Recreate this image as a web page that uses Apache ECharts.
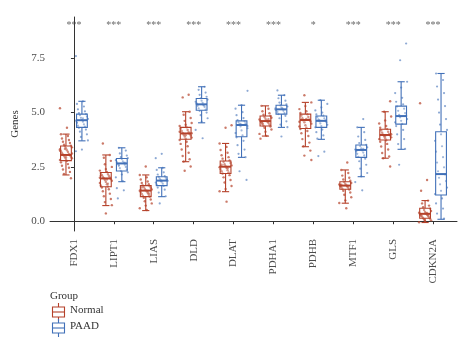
<!DOCTYPE html>
<html>
<head>
<meta charset="utf-8">
<script src="https://cdn.jsdelivr.net/npm/echarts@6/dist/echarts.min.js"></script>
<style>
  html, body { margin: 0; padding: 0; background: #fff; }
  #chart { width: 474px; height: 352px; }
</style>
</head>
<body>
<div id="chart"></div>
<script>
const genes = ['FDX1', 'LIPT1', 'LIAS', 'DLD', 'DLAT', 'PDHA1', 'PDHB', 'MTF1', 'GLS', 'CDKN2A'];
const signif = ['***', '***', '***', '***', '***', '***', '*', '***', '***', '***'];
const yTicks = [0, 2.5, 5, 7.5];

// box stats: [lower whisker, Q1, median, Q3, upper whisker]
const normalBox = [
  [2.13, 2.79, 3.05, 3.46, 4.01], [0.72, 1.59, 1.97, 2.24, 3.05], [0.49, 1.13, 1.41, 1.64, 2.13],
  [2.74, 3.77, 4.04, 4.32, 5.04], [1.36, 2.2, 2.51, 2.77, 3.58], [3.92, 4.38, 4.61, 4.84, 5.31],
  [3.43, 4.27, 4.66, 4.93, 5.47], [0.83, 1.47, 1.64, 1.82, 2.36], [2.9, 3.74, 3.97, 4.23, 5.04],
  [-0.06, 0.14, 0.34, 0.6, 0.95],
];
const paadBox = [
  [3.7, 4.32, 4.65, 4.93, 5.52], [1.82, 2.31, 2.66, 2.89, 3.38], [1.13, 1.64, 1.87, 2.05, 2.46],
  [4.53, 5.11, 5.38, 5.65, 6.19], [2.94, 3.89, 4.43, 4.62, 5.34], [4.32, 4.93, 5.15, 5.34, 5.8],
  [3.77, 4.32, 4.62, 4.84, 5.57], [2.05, 2.94, 3.28, 3.51, 4.32], [3.31, 4.47, 4.84, 5.3, 6.42],
  [0.09, 1.21, 2.17, 4.12, 6.8],
];

// sample points
const normalPts = [
  [5.2, 4.3, 4.0, 3.92, 3.81, 3.74, 3.66, 3.6, 3.52, 3.48, 3.44, 3.4, 3.36, 3.31, 3.27, 3.22, 3.19, 3.14, 3.1, 3.07, 3.04, 3.01, 2.97, 2.93, 2.9, 2.86, 2.82, 2.78, 2.71, 2.63, 2.55, 2.46, 2.38, 2.27, 2.18, 1.98, 3.33, 3.12, 2.95, 3.25],
  [3.58, 3.05, 2.92, 2.78, 2.62, 2.5, 2.4, 2.33, 2.27, 2.22, 2.17, 2.13, 2.09, 2.05, 2.01, 1.98, 1.94, 1.9, 1.86, 1.81, 1.76, 1.7, 1.65, 1.6, 1.55, 1.47, 1.38, 1.27, 1.15, 1.02, 0.88, 0.74, 0.36, 2.0, 1.92, 2.11, 1.73],
  [2.52, 2.13, 2.02, 1.92, 1.83, 1.76, 1.7, 1.65, 1.61, 1.57, 1.53, 1.5, 1.46, 1.43, 1.4, 1.37, 1.34, 1.3, 1.26, 1.22, 1.18, 1.14, 1.08, 1.0, 0.92, 0.82, 0.72, 0.6, 0.52, 1.44, 1.39, 1.55, 1.28],
  [5.82, 5.7, 5.04, 4.9, 4.75, 4.62, 4.52, 4.44, 4.38, 4.32, 4.26, 4.2, 4.15, 4.1, 4.06, 4.02, 3.98, 3.94, 3.9, 3.85, 3.8, 3.74, 3.66, 3.56, 3.45, 3.3, 3.15, 3.0, 2.85, 2.75, 2.52, 2.32, 4.05, 3.96, 4.12],
  [4.42, 4.3, 3.58, 3.42, 3.28, 3.15, 3.04, 2.95, 2.88, 2.8, 2.74, 2.68, 2.62, 2.57, 2.53, 2.49, 2.45, 2.4, 2.35, 2.3, 2.25, 2.2, 2.12, 2.02, 1.9, 1.78, 1.62, 1.48, 1.38, 0.9, 2.52, 2.44, 2.6],
  [5.31, 5.18, 5.06, 4.97, 4.9, 4.85, 4.8, 4.76, 4.72, 4.68, 4.64, 4.61, 4.58, 4.55, 4.52, 4.48, 4.44, 4.4, 4.36, 4.3, 4.22, 4.12, 4.02, 3.93, 3.8, 4.62, 4.57, 4.7, 4.5],
  [5.8, 5.47, 5.3, 5.16, 5.06, 4.98, 4.92, 4.86, 4.8, 4.74, 4.69, 4.64, 4.6, 4.55, 4.49, 4.42, 4.36, 4.3, 4.24, 4.15, 4.05, 3.92, 3.78, 3.62, 3.45, 3.25, 3.02, 2.82, 4.66, 4.58, 4.71],
  [2.7, 2.36, 2.22, 2.1, 2.0, 1.92, 1.86, 1.8, 1.76, 1.72, 1.69, 1.66, 1.63, 1.6, 1.57, 1.54, 1.5, 1.46, 1.4, 1.32, 1.22, 1.1, 0.96, 0.84, 0.6, 1.65, 1.62, 1.68],
  [5.52, 5.04, 4.82, 4.64, 4.5, 4.38, 4.3, 4.24, 4.18, 4.12, 4.07, 4.02, 3.98, 3.94, 3.9, 3.86, 3.82, 3.78, 3.73, 3.66, 3.56, 3.44, 3.3, 3.14, 2.98, 2.9, 2.52, 3.96, 4.0, 3.92],
  [5.43, 1.9, 1.4, 0.95, 0.82, 0.72, 0.64, 0.58, 0.52, 0.47, 0.43, 0.39, 0.36, 0.33, 0.3, 0.27, 0.24, 0.21, 0.18, 0.15, 0.12, 0.08, 0.04, 0.0, -0.05, 0.35, 0.31, 0.38, 0.25, 0.28],
];
const paadPts = [
  [7.6, 5.52, 5.4, 5.28, 5.15, 5.06, 4.98, 4.93, 4.88, 4.82, 4.76, 4.71, 4.67, 4.63, 4.58, 4.52, 4.46, 4.4, 4.35, 4.3, 4.22, 4.12, 4.0, 3.88, 3.72, 3.3, 3.22, 4.74, 4.55],
  [3.38, 3.25, 3.12, 3.02, 2.95, 2.9, 2.86, 2.81, 2.76, 2.72, 2.68, 2.64, 2.6, 2.55, 2.5, 2.44, 2.38, 2.32, 2.25, 2.15, 2.02, 1.85, 1.52, 1.42, 1.05, 2.7, 2.58],
  [3.1, 2.9, 2.46, 2.36, 2.25, 2.15, 2.08, 2.04, 2.0, 1.96, 1.92, 1.89, 1.86, 1.82, 1.78, 1.73, 1.68, 1.63, 1.55, 1.45, 1.32, 1.15, 0.82, 1.9, 1.84],
  [6.19, 6.05, 5.92, 5.82, 5.73, 5.66, 5.6, 5.55, 5.5, 5.45, 5.4, 5.36, 5.31, 5.26, 5.2, 5.14, 5.08, 5.0, 4.88, 4.74, 4.58, 4.2, 3.82, 5.42, 5.33],
  [6.0, 5.34, 5.18, 5.02, 4.88, 4.75, 4.66, 4.6, 4.55, 4.5, 4.46, 4.42, 4.36, 4.28, 4.18, 4.06, 3.95, 3.86, 3.7, 3.5, 3.3, 3.1, 2.95, 2.3, 1.9, 4.48, 4.38],
  [6.02, 5.8, 5.66, 5.55, 5.46, 5.38, 5.33, 5.28, 5.23, 5.19, 5.16, 5.12, 5.08, 5.03, 4.98, 4.93, 4.85, 4.74, 4.6, 4.45, 4.33, 3.9, 5.14, 5.2],
  [5.57, 5.4, 5.24, 5.1, 5.0, 4.92, 4.86, 4.8, 4.74, 4.69, 4.64, 4.6, 4.55, 4.5, 4.44, 4.38, 4.32, 4.22, 4.1, 3.95, 3.8, 3.2, 3.0, 4.62, 4.66],
  [4.7, 4.32, 4.1, 3.9, 3.74, 3.6, 3.52, 3.46, 3.4, 3.35, 3.3, 3.26, 3.21, 3.16, 3.1, 3.03, 2.96, 2.88, 2.76, 2.6, 2.42, 2.22, 2.06, 1.8, 1.42, 3.28, 3.33],
  [8.18, 7.41, 6.42, 6.15, 5.9, 5.68, 5.5, 5.38, 5.28, 5.18, 5.08, 4.98, 4.9, 4.84, 4.78, 4.7, 4.62, 4.55, 4.48, 4.38, 4.2, 4.0, 3.78, 3.55, 3.33, 2.6, 4.86],
  [6.8, 6.5, 6.2, 5.9, 5.6, 5.3, 5.0, 4.7, 4.45, 4.2, 4.0, 3.7, 3.45, 3.2, 2.95, 2.7, 2.48, 2.3, 2.15, 2.0, 1.85, 1.7, 1.55, 1.4, 1.25, 1.05, 0.82, 0.58, 0.35, 0.12],
];

const colorNormal = '#B5412A';
const colorPaad = '#4170B8';
const serif = "'Liberation Serif', 'DejaVu Serif', serif";
const dodge = 0.2;
const boxHalf = 0.135;
const capHalf = 0.09;

const chart = echarts.init(document.getElementById('chart'));

// jitter positions, just a fixed spread pattern for the dots
const jitterData = (pts, off) => {
  const out = [];
  pts.forEach((arr, gi) => {
    arr.forEach((v, i) => {
      const j = (((i * 7 + gi * 3) % 13) - 6) / 6 * 0.15;
      out.push([gi + off + j, v]);
    });
  });
  return out;
};

const boxRender = (color) => function (params, api) {
  const x = api.value(0);
  const lo = api.coord([x, api.value(1)]);
  const q1 = api.coord([x, api.value(2)]);
  const med = api.coord([x, api.value(3)]);
  const q3 = api.coord([x, api.value(4)]);
  const hi = api.coord([x, api.value(5)]);
  const hw = api.size([boxHalf, 0])[0];
  const cw = api.size([capHalf, 0])[0];
  const cx = q1[0];
  const line = { stroke: color, lineWidth: 1.1, fill: null };
  return {
    type: 'group',
    children: [
      { type: 'line', shape: { x1: cx, y1: hi[1], x2: cx, y2: q3[1] }, style: line },
      { type: 'line', shape: { x1: cx, y1: q1[1], x2: cx, y2: lo[1] }, style: line },
      { type: 'line', shape: { x1: cx - cw, y1: hi[1], x2: cx + cw, y2: hi[1] }, style: line },
      { type: 'line', shape: { x1: cx - cw, y1: lo[1], x2: cx + cw, y2: lo[1] }, style: line },
      { type: 'rect', shape: { x: cx - hw, y: q3[1], width: hw * 2, height: q1[1] - q3[1] },
        style: { stroke: color, lineWidth: 1.1, fill: 'rgba(255,255,255,0.2)' } },
      { type: 'line', shape: { x1: cx - hw, y1: med[1], x2: cx + hw, y2: med[1] },
        style: { stroke: color, lineWidth: 2 } },
    ],
  };
};

const boxData = (stats, off) => stats.map((s, i) => [i + off].concat(s));

const legendIcon = (y, color) => [
  { type: 'line', shape: { x1: 58.5, y1: y - 9, x2: 58.5, y2: y + 9 }, style: { stroke: color, lineWidth: 1.1 } },
  { type: 'rect', shape: { x: 52.5, y: y - 5, width: 12, height: 10 }, style: { stroke: color, lineWidth: 1.1, fill: '#fff' } },
  { type: 'line', shape: { x1: 52.5, y1: y, x2: 64.5, y2: y }, style: { stroke: color, lineWidth: 1.1 } },
];

const option = {
  animation: false,
  backgroundColor: '#fff',
  textStyle: { fontFamily: serif },
  grid: { left: 50, right: 17, top: 17, bottom: 121 },
  xAxis: {
    type: 'value',
    min: -0.6,
    max: 9.6,
    splitLine: { show: false },
    axisLine: { show: true, lineStyle: { color: '#333', width: 1 } },
    axisTick: { show: true, length: 3, lineStyle: { color: '#333' }, customValues: genes.map((g, i) => i) },
    axisLabel: {
      customValues: genes.map((g, i) => i),
      formatter: (v) => genes[Math.round(v)],
      rotate: 90,
      margin: 8,
      color: '#4d4d4d',
      fontSize: 11,
      fontFamily: serif,
    },
  },
  yAxis: {
    type: 'value',
    min: -0.45,
    max: 9.4,
    name: 'Genes',
    nameLocation: 'middle',
    nameGap: 24,
    nameTextStyle: { color: '#333', fontSize: 11, fontFamily: serif },
    splitLine: { show: false },
    axisLine: { show: true, lineStyle: { color: '#333', width: 1 } },
    axisTick: { show: true, length: 3, lineStyle: { color: '#333' }, customValues: yTicks },
    axisLabel: {
      customValues: yTicks,
      formatter: (v) => v.toFixed(1),
      margin: 5,
      color: '#4d4d4d',
      fontSize: 11,
      fontFamily: serif,
    },
  },
  series: [
    {
      name: 'NormalPts',
      type: 'scatter',
      symbolSize: 2.4,
      itemStyle: { color: colorNormal, opacity: 0.7 },
      data: jitterData(normalPts, -dodge),
      z: 2,
    },
    {
      name: 'PaadPts',
      type: 'scatter',
      symbolSize: 2.2,
      itemStyle: { color: colorPaad, opacity: 0.6 },
      data: jitterData(paadPts, dodge),
      z: 2,
    },
    {
      name: 'Normal',
      type: 'custom',
      renderItem: boxRender(colorNormal),
      data: boxData(normalBox, -dodge),
      encode: { x: 0, y: [1, 2, 3, 4, 5] },
      z: 3,
    },
    {
      name: 'PAAD',
      type: 'custom',
      renderItem: boxRender(colorPaad),
      data: boxData(paadBox, dodge),
      encode: { x: 0, y: [1, 2, 3, 4, 5] },
      z: 3,
    },
    {
      name: 'signif',
      type: 'scatter',
      symbolSize: 0,
      data: signif.map((s, i) => [i, 9.02]),
      label: {
        show: true,
        position: 'inside',
        formatter: (p) => signif[p.dataIndex],
        color: '#444',
        fontSize: 10,
        fontFamily: serif,
      },
      z: 4,
    },
  ],
  graphic: [
    { type: 'text', left: 50, top: 291, style: { text: 'Group', fill: '#333', font: "11px 'Liberation Serif', serif" } },
    ...legendIcon(312, colorNormal),
    { type: 'text', left: 70, top: 305, style: { text: 'Normal', fill: '#333', font: "11px 'Liberation Serif', serif" } },
    ...legendIcon(328, colorPaad),
    { type: 'text', left: 70, top: 321, style: { text: 'PAAD', fill: '#333', font: "11px 'Liberation Serif', serif" } },
  ],
};

chart.setOption(option);
</script>
</body>
</html>
